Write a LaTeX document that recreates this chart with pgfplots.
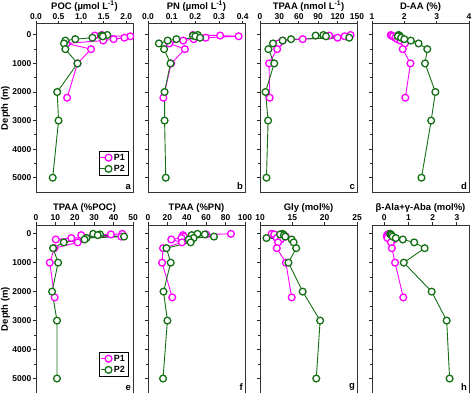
\documentclass[border=0pt]{standalone}
\usepackage{fontspec}
\setmainfont{Liberation Sans}
\usepackage{pgfplots}
\pgfplotsset{compat=1.18}
\definecolor{pone}{RGB}{255,0,255}
\definecolor{ptwo}{RGB}{20,112,20}
\pgfplotsset{
 prof/.style={
  scale only axis, width=97bp, height=168bp,
  y dir=reverse, ymax=5500,
  ytick={0,1000,2000,3000,4000,5000},
  minor ytick={500,1500,2500,3500,4500},
  scaled y ticks=false, scaled x ticks=false,
  xtick pos=right, xticklabel pos=right, ytick pos=left,
  tick align=outside,
  major tick length=3bp, minor tick length=2bp,
  every tick/.style={black!85, line width=0.8bp},
  axis line style={black!80, line width=1bp},
  ticklabel style={font=\bfseries\fontsize{8.5}{9}\selectfont},
  /pgf/number format/assume math mode=true,
  /pgf/number format/1000 sep={},
  xticklabel style={inner sep=1bp},
  yticklabel style={inner sep=1.5bp},
  xlabel style={font=\bfseries\fontsize{9.5}{11}\selectfont, inner sep=1bp},
  ylabel style={font=\bfseries\fontsize{9.5}{11}\selectfont, inner sep=1bp},
  legend style={at={(0.95,0.095)}, anchor=south east, draw=black, line width=0.6bp,
    font=\bfseries\fontsize{9}{9}\selectfont, inner sep=1bp, row sep=-0.5bp,
    cells={anchor=west}},
  legend image code/.code={\draw[mark repeat=2,mark phase=2,#1] plot coordinates {(0bp,0bp) (8bp,0bp)};},
 },
 toprow/.style={ymin=-380},
 botrow/.style={ymin=-300},
 inner/.style={yticklabels={}},
 p1/.style={pone, line width=0.9bp, mark=*, mark size=3.4bp, mark options={draw=pone, fill=white, line width=1.3bp}},
 p2/.style={ptwo, line width=0.9bp, mark=*, mark size=3.4bp, mark options={draw=ptwo, fill=white, line width=1.3bp}},
 onedec/.style={xticklabel style={/pgf/number format/fixed, /pgf/number format/fixed zerofill, /pgf/number format/precision=1}},
}
\newcommand{\plab}[1]{\node[anchor=south east, font=\bfseries\fontsize{9.5}{10}\selectfont, inner sep=2bp] at (axis description cs:1,0) {#1};}

% P1 depths: 5 25 50 100 150 200 300 500 1000 2200
% P2 depths: 5 25 50 100 150 200 300 500 1000 2000 3000 5000
\begin{document}
\begin{tikzpicture}
\useasboundingbox (0,0) rectangle (474bp,393bp);

% ---- a: POC
\begin{axis}[prof, toprow, at={(36bp,369bp)}, anchor=north west,
  xmin=0, xmax=2.15, xtick={0,0.5,1,1.5,2}, onedec,
  xlabel={POC (µmol L\textsuperscript{-1})}, ylabel={Depth (m)}]
\addplot[p1] coordinates {(1.46,5) (1.30,25) (2.09,50) (1.96,100) (1.72,150) (1.49,200) (0.68,300) (1.22,500) (0.92,1000) (0.69,2200)};
\addplot[p2] coordinates {(1.58,5) (1.45,25) (1.48,50) (1.25,100) (0.87,150) (0.65,200) (0.62,300) (0.65,500) (0.92,1000) (0.47,2000) (0.50,3000) (0.37,5000)};
\legend{P1,P2}
\plab{a}
\end{axis}

% ---- b: PN
\begin{axis}[prof, toprow, inner, at={(148bp,369bp)}, anchor=north west,
  xmin=0, xmax=0.41, xtick={0,0.1,0.2,0.3,0.4}, onedec,
  xlabel={PN (µmol L\textsuperscript{-1})}]
\addplot[p1] coordinates {(0.19,5) (0.305,25) (0.383,50) (0.244,100) (0.193,150) (0.149,200) (0.09,300) (0.156,500) (0.098,1000) (0.065,2200)};
\addplot[p2] coordinates {(0.21,5) (0.19,25) (0.20,50) (0.22,100) (0.12,150) (0.083,200) (0.046,300) (0.068,500) (0.095,1000) (0.07,2000) (0.07,3000) (0.075,5000)};
\plab{b}
\end{axis}

% ---- c: TPAA
\begin{axis}[prof, toprow, inner, at={(260bp,369bp)}, anchor=north west,
  xmin=0, xmax=150, xtick={0,30,60,90,120,150},
  xlabel={TPAA (nmol L\textsuperscript{-1})}]
\addplot[p1] coordinates {(140,5) (107,25) (131,50) (120,100) (66,150) (35,200) (28.5,300) (26.5,500) (14,1000) (15,2200)};
\addplot[p2] coordinates {(98,5) (86,25) (102,50) (138,100) (48,150) (35,200) (20,300) (13,500) (22,1000) (8.5,2000) (12.5,3000) (10,5000)};
\plab{c}
\end{axis}

% ---- d: D-AA
\begin{axis}[prof, toprow, inner, at={(372bp,369bp)}, anchor=north west,
  xmin=1, xmax=4, xtick={1,2,3,4},
  xlabel={D-AA (\%)}]
\addplot[p1] coordinates {(1.58,5) (1.60,25) (1.65,50) (1.72,100) (1.78,150) (1.88,200) (2.02,300) (1.95,500) (2.19,1000) (2.03,2200)};
\addplot[p2] coordinates {(1.82,5) (1.85,25) (1.80,50) (1.90,100) (2.0,150) (2.2,200) (2.44,300) (2.71,500) (2.64,1000) (2.96,2000) (2.83,3000) (2.53,5000)};
\plab{d}
\end{axis}

% ---- e: TPAA %POC
\begin{axis}[prof, botrow, at={(36bp,168bp)}, anchor=north west,
  xmin=0, xmax=50, xtick={0,10,20,30,40,50},
  xlabel={TPAA (\%POC)}, ylabel={Depth (m)}]
\addplot[p1] coordinates {(44.5,5) (38.6,25) (23.3,50) (44,100) (18.2,150) (10.2,200) (21.5,300) (9.5,500) (7.1,1000) (9.6,2200)};
\addplot[p2] coordinates {(29.5,5) (33,25) (31.8,50) (45.4,100) (26,150) (25,200) (14.3,300) (8.8,500) (11.4,1000) (8.3,2000) (10.8,3000) (10.8,5000)};
\legend{P1,P2}
\plab{e}
\end{axis}

% ---- f: TPAA %PN
\begin{axis}[prof, botrow, inner, at={(148bp,168bp)}, anchor=north west,
  xmin=0, xmax=100, xtick={0,20,40,60,80,100},
  xlabel={TPAA (\%PN)}]
\addplot[p1] coordinates {(85.5,5) (60,25) (36,50) (37,100) (34.5,150) (24,200) (35,300) (15.5,500) (14.5,1000) (25,2200)};
\addplot[p2] coordinates {(51,5) (58.6,25) (45,50) (68,100) (47,150) (42,200) (44,300) (19,500) (23.4,1000) (16,2000) (20,3000) (15.5,5000)};
\plab{f}
\end{axis}

% ---- g: Gly
\begin{axis}[prof, botrow, inner, at={(260bp,168bp)}, anchor=north west,
  xmin=10, xmax=25, xtick={10,15,20,25},
  xlabel={Gly (mol\%)}]
\addplot[p1] coordinates {(11.8,5) (12.2,25) (13.7,50) (14.0,100) (12.6,150) (13.2,200) (12.8,300) (12.6,500) (14.0,1000) (14.9,2200)};
\addplot[p2] coordinates {(13.5,5) (13.1,25) (13.7,50) (13.9,100) (11.0,150) (14.9,200) (15.2,300) (15.6,500) (14.4,1000) (16.6,2000) (19.3,3000) (18.7,5000)};
\plab{g}
\end{axis}

% ---- h: beta-Ala + gamma-Aba
\begin{axis}[prof, botrow, inner, at={(372bp,168bp)}, anchor=north west,
  xmin=-0.5, xmax=3.5, xtick={0,1,2,3},
  xlabel={β-Ala+γ-Aba (mol\%)}]
\addplot[p1] coordinates {(0.22,5) (0.15,25) (0.12,50) (0.11,100) (0.14,150) (0.40,200) (0.28,300) (0.32,500) (0.45,1000) (0.79,2200)};
\addplot[p2] coordinates {(0.25,5) (0.27,25) (0.30,50) (0.35,100) (0.48,150) (0.77,200) (1.24,300) (1.67,500) (0.81,1000) (1.96,2000) (2.58,3000) (2.70,5000)};
\plab{h}
\end{axis}
\end{tikzpicture}
\end{document}
